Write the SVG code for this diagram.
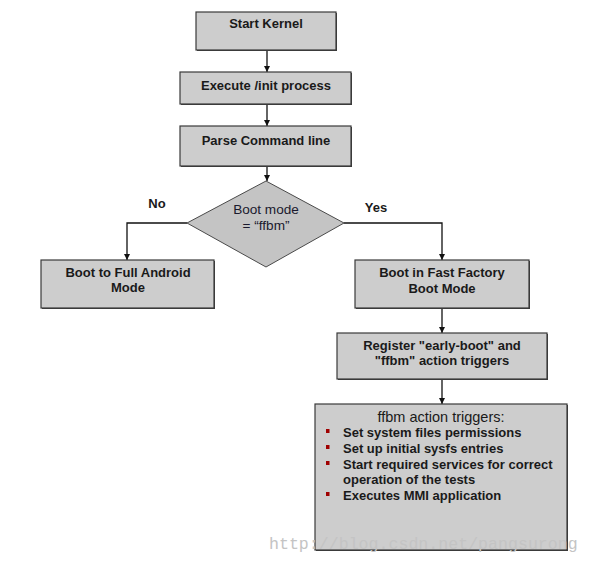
<svg xmlns="http://www.w3.org/2000/svg" width="590" height="564" viewBox="0 0 590 564">
<style>
.shadow{fill:#3c3c3c}
.box{fill:#cdcdcd;stroke:#3a3a3a;stroke-width:1.2}
.t{font-family:"Liberation Sans",Arial,sans-serif;font-size:13px;font-weight:bold;fill:#1a1a1a;text-anchor:middle}
.r{font-family:"Liberation Sans",Arial,sans-serif;font-size:13.6px;fill:#1a1a2e;text-anchor:middle}
.b{font-family:"Liberation Sans",Arial,sans-serif;font-size:13px;font-weight:bold;fill:#1a1a1a}
.bul{fill:#a00000}
.c{fill:none;stroke:#111;stroke-width:1.3}
.wm{font-family:"Liberation Mono","Courier New",monospace;font-size:16.6px;fill:#c4c4c4}
</style>
<defs>
<marker id="ah" viewBox="0 0 10 10" refX="10" refY="5" markerWidth="6" markerHeight="7" markerUnits="userSpaceOnUse" orient="auto">
<path d="M0,0 L10,5 L0,10 Z" fill="#111"/>
</marker>
</defs>
<rect width="590" height="564" fill="#fff"/>
<g id="connectors">
<path class="c" d="M267,50 V72" marker-end="url(#ah)"/>
<path class="c" d="M267,104 V126" marker-end="url(#ah)"/>
<path class="c" d="M267,166 V181" marker-end="url(#ah)"/>
<path class="c" d="M187,223 H127 V260" marker-end="url(#ah)"/>
<path class="c" d="M344,223 H442 V260" marker-end="url(#ah)"/>
<path class="c" d="M442,308 V333" marker-end="url(#ah)"/>
<path class="c" d="M442,379 V404" marker-end="url(#ah)"/>
<text class="t" x="157" y="208">No</text>
<text class="t" x="376" y="212">Yes</text>
</g>
<g id="start-kernel">
<rect class="shadow" x="197" y="13" width="140" height="38"/>
<rect class="box" x="196" y="12" width="140" height="38"/>
<text class="t" x="266" y="28">Start Kernel</text>
</g>
<g id="execute-init">
<rect class="shadow" x="181" y="73" width="171" height="32"/>
<rect class="box" x="180" y="72" width="171" height="32"/>
<text class="t" x="266" y="90">Execute /init process</text>
</g>
<g id="parse-cmdline">
<rect class="shadow" x="181" y="127" width="171" height="40"/>
<rect class="box" x="180" y="126" width="171" height="40"/>
<text class="t" x="266" y="145">Parse Command line</text>
</g>
<g id="boot-mode">
<polygon points="266,181 344,223 266,267 187,223" fill="#c4c4c4" stroke="#4a4a4a" stroke-width="1"/>
<text class="r" x="266" y="214">Boot mode</text>
<text class="r" x="266" y="230">= “ffbm”</text>
</g>
<g id="full-android">
<rect class="shadow" x="42" y="261" width="173" height="48"/>
<rect class="box" x="41" y="260" width="173" height="48"/>
<text class="t" x="128" y="277">Boot to Full Android</text>
<text class="t" x="128" y="292">Mode</text>
</g>
<g id="fast-factory">
<rect class="shadow" x="356" y="261" width="174" height="48"/>
<rect class="box" x="355" y="260" width="174" height="48"/>
<text class="t" x="442" y="277">Boot in Fast Factory</text>
<text class="t" x="442" y="293">Boot Mode</text>
</g>
<g id="register-triggers">
<rect class="shadow" x="338" y="334" width="210" height="46"/>
<rect class="box" x="337" y="333" width="210" height="46"/>
<text class="t" x="442" y="350">Register "early-boot" and</text>
<text class="t" x="442" y="365">"ffbm" action triggers</text>
</g>
<g id="ffbm-triggers">
<rect class="shadow" x="316" y="405" width="252" height="146"/>
<rect class="box" x="315" y="404" width="252" height="146"/>
<text class="r" x="441" y="422" style="fill:#1a1a1a;font-size:14.5px">ffbm action triggers:</text>
<rect class="bul" x="326" y="429" width="3.5" height="4"/>
<text class="b" x="343" y="437">Set system files permissions</text>
<rect class="bul" x="326" y="445" width="3.5" height="4"/>
<text class="b" x="343" y="453">Set up initial sysfs entries</text>
<rect class="bul" x="326" y="461" width="3.5" height="4"/>
<text class="b" x="343" y="469">Start required services for correct</text>
<text class="b" x="343" y="484">operation of the tests</text>
<rect class="bul" x="326" y="492" width="3.5" height="4"/>
<text class="b" x="343" y="500">Executes MMI application</text>
</g>
<text class="wm" x="269" y="549">http://blog.csdn.net/pangsurong</text>
</svg>
